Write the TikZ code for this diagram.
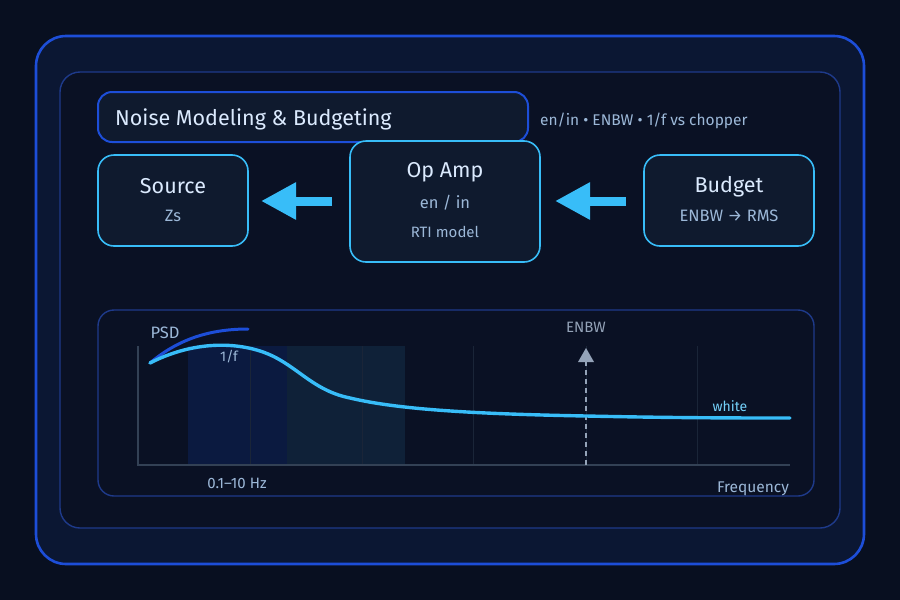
\documentclass[tikz,border=0pt]{standalone}
\usepackage{fontspec}
\setmainfont{Fira Sans}
\usetikzlibrary{arrows.meta}
\definecolor{bgc}{HTML}{080F20}
\definecolor{outerfill}{HTML}{0B1733}
\definecolor{outerline}{HTML}{1D4ED8}
\definecolor{innerfill}{HTML}{0A1124}
\definecolor{innerline}{HTML}{1E3A8A}
\definecolor{boxfill}{HTML}{0F1A2E}
\definecolor{sky}{HTML}{38BDF8}
\definecolor{titletext}{HTML}{DBEAFE}
\definecolor{subtext}{HTML}{9CB8D8}
\definecolor{axisc}{HTML}{334155}
\definecolor{gridc}{HTML}{1A2538}
\definecolor{bandA}{HTML}{0B1A40}
\definecolor{bandB}{HTML}{0F2138}
\definecolor{enbwc}{HTML}{94A3B8}
\definecolor{darkcurve}{HTML}{1D4ED8}
\tikzset{
  blockbox/.style={draw=sky, line width=1.6pt, fill=boxfill, rounded corners=16pt, inner sep=0pt},
  headtxt/.style={text=titletext, font=\fontsize{21.5}{24}\selectfont, inner sep=0pt},
  subtxt/.style={text=subtext, font=\fontsize{16.5}{18}\selectfont, inner sep=0pt},
  smalltxt/.style={text=subtext, font=\fontsize{15}{16}\selectfont, inner sep=0pt},
  plottxt/.style={text=subtext, font=\fontsize{15}{16}\selectfont, inner sep=0pt},
  fatarrow/.style={sky, line width=9pt, -{Triangle[length=35pt,width=35pt]}},
  gridline/.style={gridc, line width=0.8pt},
}
\begin{document}
\begin{tikzpicture}[x=1pt,y=-1pt]
\useasboundingbox (0,0) rectangle (900,600);
\fill[bgc] (0,0) rectangle (900,600);
% outer frames
\draw[outerline, line width=2.6pt, fill=outerfill, rounded corners=30pt] (36,36) rectangle (864,564);
\draw[innerline, line width=1.4pt, fill=innerfill, rounded corners=20pt] (60,72) rectangle (840,528);
% title
\node[draw=outerline, line width=2pt, fill=boxfill, rounded corners=14pt, minimum width=430pt, minimum height=50pt, inner sep=0pt] (title) at (313,117) {};
\node[headtxt, anchor=west] (titletxt) at (115,119) {Noise Modeling \& Budgeting};
\node[text=subtext, font=\fontsize{15.5}{16}\selectfont, inner sep=0pt, anchor=west] (subtitle) at (540,120.5) {en/in • ENBW • 1/f vs chopper};
% blocks
\node[blockbox, minimum width=150pt, minimum height=91pt] (source) at (173,200.5) {};
\node[headtxt] (sourcet) at (173,186.5) {Source};
\node[subtxt] (sourcez) at (173,216) {Zs};
\node[blockbox, minimum width=190pt, minimum height=121pt] (opamp) at (445,201.5) {};
\node[headtxt] (opampt) at (445,172.5) {Op Amp};
\node[subtxt] (opampe) at (445,203) {en / in};
\node[smalltxt] (opampr) at (445,231.5) {RTI model};
\node[blockbox, minimum width=170pt, minimum height=91pt] (budget) at (729,200.5) {};
\node[headtxt] (budgett) at (729,186.5) {Budget};
\node[subtxt] (budgete) at (729,216) {ENBW → RMS};
% arrows
\coordinate (a1s) at (332,201);
\coordinate (a1e) at (261,201);
\coordinate (a2s) at (626,201);
\coordinate (a2e) at (555,201);
\draw[fatarrow] (a1s) -- (a1e);
\draw[fatarrow] (a2s) -- (a2e);
% plot panel
\node[draw=innerline, line width=1.4pt, fill=innerfill, rounded corners=16pt, minimum width=716pt, minimum height=186pt, inner sep=0pt] (panel) at (456,403) {};
\fill[bandA] (188,346) rectangle (287,465);
\fill[bandB] (287,346) rectangle (405,465);
\foreach \gx in {250,362,473,586,697} \draw[gridline] (\gx,346) -- (\gx,465);
\draw[axisc, line width=1.2pt] (138,346) -- (138,465) -- (790,465);
% ENBW marker
\draw[enbwc, line width=1.3pt, dash pattern=on 5pt off 4pt] (586,465) -- (586,362);
\fill[enbwc] (586,348) -- (594,362) -- (578,362) -- cycle;
\node[plottxt, text=enbwc] (enbwl) at (586,327) {ENBW};
% curves
\draw[darkcurve, line width=3pt, line cap=round] (150,363) .. controls (175,342) and (205,329) .. (248,329);
\draw[sky, line width=3.4pt, line cap=round, line join=round] (150,363) .. controls (185,345) and (225,340) .. (260,351) .. controls (295,362) and (310,390) .. (350,398) .. controls (400,410) and (480,414) .. (586,416) .. controls (680,418) and (740,418) .. (790,418);
% labels
\node[plottxt, font=\fontsize{16.5}{18}\selectfont] (psd) at (165,333) {PSD};
\node[plottxt, font=\fontsize{14}{16}\selectfont] (onef) at (229,357) {1/f};
\node[plottxt, text=sky!70!white, font=\fontsize{14}{16}\selectfont] (white) at (730,406) {white};
\node[plottxt] (band) at (237,483) {0.1–10 Hz};
\node[plottxt, font=\fontsize{15.5}{16}\selectfont] (freq) at (753,489) {Frequency};
\end{tikzpicture}
\end{document}
